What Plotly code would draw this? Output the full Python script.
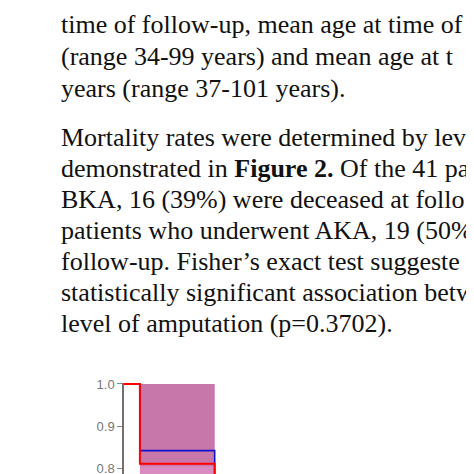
import plotly.graph_objects as go

# paragraph text as it shows on the page (cut off at the right edge)
text_lines = [
    "time of follow-up, mean age at time of",
    "(range 34-99 years) and mean age at t",
    "years (range 37-101 years).",
    "Mortality rates were determined by lev",
    "demonstrated in <b>Figure 2.</b> Of the 41 pat",
    "BKA, 16 (39%) were deceased at follo",
    "patients who underwent AKA, 19 (50%",
    "follow-up. Fisher\u2019s exact test suggeste",
    "statistically significant association betwe",
    "level of amputation (p=0.3702).",
]
# baseline of each line on the page, pixels from the top
line_baselines = [35, 66.5, 98, 147.5, 178.5, 209.5, 240.5, 271.5, 302.5, 333.5]

# Kaplan-Meier curves (only the top of the figure is visible)
times = [0, 1.0, 5.7, 9.0]
aka_surv = [1.0, 0.812, 0.70, 0.70]
bka_surv = [1.0, 0.843, 0.75, 0.75]
aka_upper = [1.0, 1.0, 0.78, 0.78]
aka_lower = [1.0, 0.62, 0.55, 0.55]
bka_upper = [1.0, 1.0, 0.785, 0.785]
bka_lower = [1.0, 0.806, 0.66, 0.66]

y_ticks = [0.8, 0.9, 1.0]
y_labels = ["0.8", "0.9", "1.0"]

# the page body keeps its default 8px margin, so the figure starts at (8, 8)
OFF = 8
W = H = 474 - OFF

fig = go.Figure()

# confidence bands
fig.add_scatter(x=times, y=aka_upper, mode="lines", line=dict(width=0, shape="hv"),
                showlegend=False, hoverinfo="skip")
fig.add_scatter(x=times, y=aka_lower, mode="lines", line=dict(width=0, shape="hv"),
                fill="tonexty", fillcolor="rgba(181,25,129,0.5)",
                showlegend=False, hoverinfo="skip")
fig.add_scatter(x=times, y=bka_upper, mode="lines", line=dict(width=0, shape="hv"),
                showlegend=False, hoverinfo="skip")
fig.add_scatter(x=times, y=bka_lower, mode="lines", line=dict(width=0, shape="hv"),
                fill="tonexty", fillcolor="rgba(158,73,119,0.3)",
                showlegend=False, hoverinfo="skip")

# survival curves
fig.add_scatter(x=times, y=bka_surv, mode="lines", line=dict(color="#1010d0", width=1.6, shape="hv"),
                showlegend=False)
fig.add_scatter(x=times, y=aka_surv, mode="lines", line=dict(color="#ff0000", width=2, shape="hv"),
                showlegend=False)

# text of the page (annotation box centre sits ~10px above the baseline,
# and the box pads the text by ~3px on the left)
for txt, base in zip(text_lines, line_baselines):
    yc = base - 10 - OFF
    fig.add_annotation(
        text=txt, xref="paper", yref="paper",
        x=(59 - OFF) / W, y=1 - yc / H, xanchor="left", yanchor="middle",
        showarrow=False, align="left",
        font=dict(family="Liberation Serif", size=26, color="#111111"),
    )

# axis line at x=124 and y=1.0 at 384 on the page; 0.1 spans ~42.5px
ax_left = 124 - OFF
top_px = 384 - OFF - 0.003 * 425

fig.update_layout(
    width=W, height=H,
    # long lines run off the page on purpose, so don't let them push margins
    margin=dict(l=0, r=0, t=0, b=0, autoexpand=False),
    paper_bgcolor="white", plot_bgcolor="white",
    xaxis=dict(domain=[ax_left / W, 1], range=[0, 22], visible=False),
    yaxis=dict(domain=[0, (H - top_px) / H], range=[0.788, 1.003],
               tickvals=y_ticks, ticktext=y_labels,
               ticks="outside", ticklen=5, tickwidth=1, tickcolor="#888888",
               ticklabeloverflow="allow",
               showline=True, linecolor="#707070", linewidth=1.5,
               showgrid=False, zeroline=False,
               tickfont=dict(family="Liberation Sans", size=13, color="#777777")),
)

fig.write_html("out.html")
